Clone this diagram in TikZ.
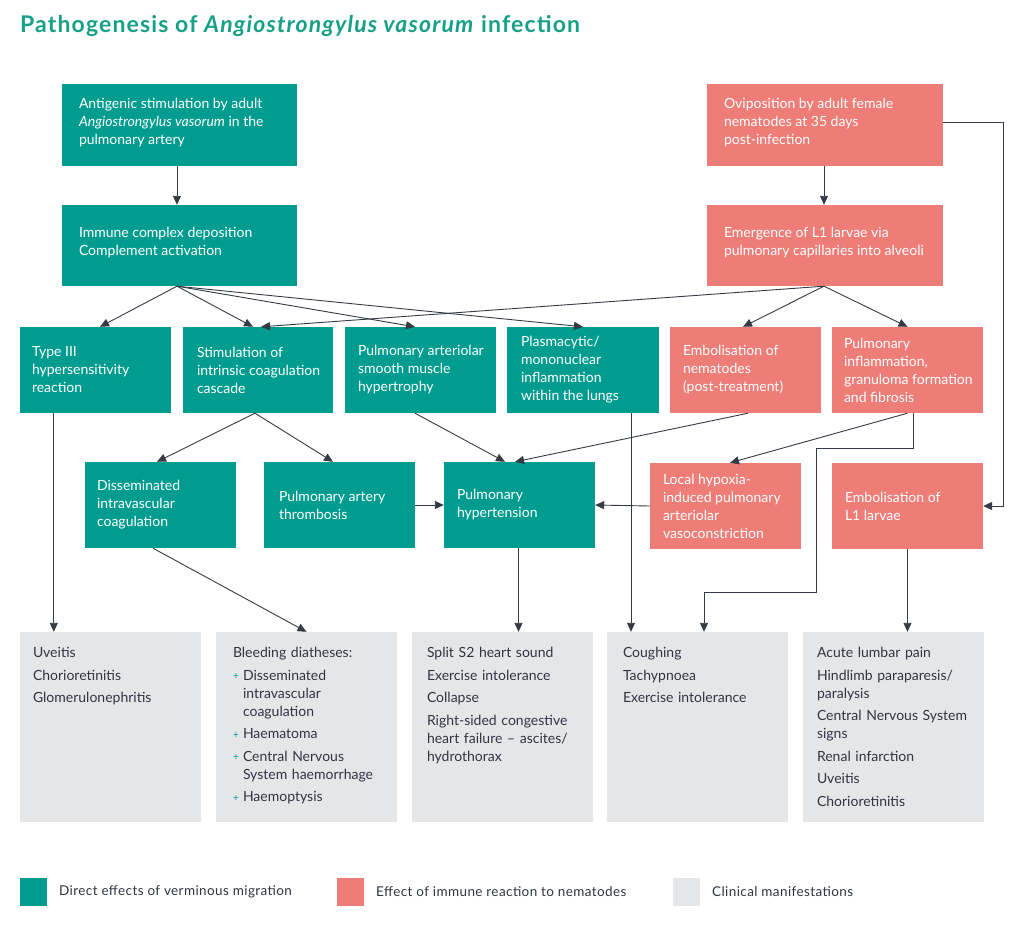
\documentclass[tikz,border=0pt]{standalone}
\usepackage{fontspec}
\setmainfont{Lato}
\usetikzlibrary{arrows.meta,calc}
\definecolor{tealc}{HTML}{009C8F}
\definecolor{redc}{HTML}{EE7D77}
\definecolor{greyc}{HTML}{E5E6E8}
\definecolor{txtc}{HTML}{2F3542}
\definecolor{linec}{HTML}{353B46}
\definecolor{titlec}{HTML}{17A088}
\newcommand\bul{\makebox[10pt][l]{\color{tealc}\fontsize{10}{10}\selectfont\raisebox{0.5pt}{+}}}
\newcommand\itm[1]{\hangindent=10pt\hangafter=1 \bul #1\par}
\begin{document}
\begin{tikzpicture}[x=1pt,y=-1pt,
  bfill/.style={rectangle, inner sep=0pt},
  tbox/.style={bfill, fill=tealc},
  rbox/.style={bfill, fill=redc},
  mid/.style={minimum width=151pt, minimum height=86pt},
  btext/.style={anchor=west, inner sep=0pt, align=left, text=white,
    font=\fontsize{14}{18}\selectfont},
  gbox/.style={rectangle, fill=greyc, inner sep=0pt, minimum width=181pt, minimum height=190pt},
  gtext/.style={anchor=north west, inner xsep=14pt, inner ysep=15.5pt, align=left, text=txtc,
    text width=158pt, font=\fontsize{14}{18}\selectfont},
  arr/.style={draw=linec, line width=0.9pt, -{Triangle[length=9pt,width=8pt]}},
  lgsq/.style={rectangle, inner sep=0pt, minimum width=27pt, minimum height=28pt},
  lgtext/.style={anchor=west, inner sep=0pt, text=txtc,
    font=\fontsize{13.5}{15}\selectfont\addfontfeature{LetterSpace=3}},
]
\useasboundingbox[fill=white] (0,0) rectangle (1024,931);

% title
\node[anchor=west, inner sep=0pt, text=titlec,
  font=\fontsize{23}{27}\selectfont\bfseries\addfontfeature{LetterSpace=5}] (title) at (20,26)
  {Pathogenesis of \textit{Angiostrongylus vasorum} infection};

% top boxes
\node[tbox, minimum width=235pt, minimum height=82pt] (ant) at (179.5,125) {};
\node[btext] (antt) at ([xshift=17pt,yshift=2pt]ant.west)
  {Antigenic stimulation by adult\\\textit{Angiostrongylus vasorum} in the\\pulmonary artery};
\node[tbox, minimum width=235pt, minimum height=81pt] (imm) at (179.5,245.5) {};
\node[btext] (immt) at ([xshift=17pt,yshift=3pt]imm.west)
  {Immune complex deposition\\Complement activation};
\node[rbox, minimum width=236pt, minimum height=82pt] (ovi) at (825,125) {};
\node[btext] (ovit) at ([xshift=17pt,yshift=2pt]ovi.west)
  {Oviposition by adult female\\nematodes at 35 days\\post-infection};
\node[rbox, minimum width=236pt, minimum height=81pt] (eme) at (825,245.5) {};
\node[btext] (emet) at ([xshift=17pt,yshift=3pt]eme.west)
  {Emergence of L1 larvae via\\pulmonary capillaries into alveoli};

% third row
\node[tbox, mid] (t3) at (95.5,370) {};
\node[btext] (t3t) at ([xshift=12pt]t3.west) {Type III\\hypersensitivity\\reaction};
\node[tbox, mid, minimum width=150pt] (stim) at (258,370) {};
\node[btext] (stimt) at ([xshift=14pt]stim.west) {Stimulation of\\intrinsic coagulation\\cascade};
\node[tbox, mid] (par) at (420.5,370) {};
\node[btext] (part) at ([xshift=13pt]par.west) {Pulmonary arteriolar\\smooth muscle\\hypertrophy};
\node[tbox, mid, minimum width=152pt] (pla) at (583,370) {};
\node[btext] (plat) at ([xshift=14pt]pla.west) {Plasmacytic/\\mononuclear\\inflammation\\within the lungs};
\node[rbox, mid] (emn) at (745.5,370) {};
\node[btext] (emnt) at ([xshift=13pt]emn.west) {Embolisation of\\nematodes\\(post-treatment)};
\node[rbox, mid] (pin) at (907.5,370) {};
\node[btext] (pint) at ([xshift=12pt]pin.west) {Pulmonary\\inflammation,\\granuloma formation\\and fibrosis};

% fourth row
\node[tbox, mid] (dic) at (160.5,505) {};
\node[btext] (dict) at ([xshift=12pt]dic.west) {Disseminated\\intravascular\\coagulation};
\node[tbox, mid] (pat) at (339.5,505) {};
\node[btext] (patt) at ([xshift=15pt]pat.west) {Pulmonary artery\\thrombosis};
\node[tbox, mid] (ph) at (519.5,505) {};
\node[btext] (pht) at ([xshift=13pt]ph.west) {Pulmonary\\hypertension};
\node[rbox, mid] (lh) at (725.5,506) {};
\node[btext] (lht) at ([xshift=13pt]lh.west) {Local hypoxia-\\induced pulmonary\\arteriolar\\vasoconstriction};
\node[rbox, mid] (el1) at (907.5,506) {};
\node[btext] (el1t) at ([xshift=13pt]el1.west) {Embolisation of\\L1 larvae};

% grey boxes
\node[gbox] (g1) at (110.5,727) {};
\node[gbox] (g2) at (306.5,727) {};
\node[gbox] (g3) at (502.5,727) {};
\node[gbox] (g4) at (697.5,727) {};
\node[gbox] (g5) at (893.5,727) {};

\node[gtext, xshift=-1pt] (g1t) at (g1.north west) {\setlength\parskip{4.5pt}%
  Uveitis\par Chorioretinitis\par Glomerulonephritis\par};
\node[gtext, xshift=3pt] (g2t) at (g2.north west) {\setlength\parskip{4.5pt}%
  Bleeding diatheses:\par
  \itm{Disseminated\newline intravascular\newline coagulation}%
  \itm{Haematoma}%
  \itm{Central Nervous\newline System haemorrhage}%
  \itm{Haemoptysis}};
\node[gtext, xshift=1pt] (g3t) at (g3.north west) {\setlength\parskip{4.5pt}%
  Split S2 heart sound\par Exercise intolerance\par Collapse\par
  Right-sided congestive\newline heart failure -- ascites/\newline hydrothorax\par};
\node[gtext, xshift=2pt] (g4t) at (g4.north west) {\setlength\parskip{4.5pt}%
  Coughing\par Tachypnoea\par Exercise intolerance\par};
\node[gtext] (g5t) at (g5.north west) {\setlength\parskip{4.5pt}%
  Acute lumbar pain\par Hindlimb paraparesis/\newline paralysis\par
  Central Nervous System\newline signs\par Renal infarction\par Uveitis\par Chorioretinitis\par};

% connectors
\draw[arr] ([xshift=-2.5pt]ant.south) -- ([xshift=-2.5pt]imm.north);
\draw[arr] ([xshift=-1pt]ovi.south) -- ([xshift=-1pt]eme.north);
\draw[arr] ([xshift=-2.5pt]imm.south) -- ([xshift=4.5pt]t3.north);
\draw[arr] ([xshift=-2.5pt]imm.south) -- ([xshift=-5pt]stim.north);
\draw[arr] ([xshift=-2.5pt]imm.south) -- ([xshift=-5.5pt]par.north);
\draw[arr] ([xshift=-2.5pt]imm.south) -- (pla.north);
\draw[arr] ([xshift=-1pt]eme.south) -- ([xshift=3pt]stim.north);
\draw[arr] ([xshift=-1pt]eme.south) -- ([xshift=-2.5pt]emn.north);
\draw[arr] ([xshift=-1pt]eme.south) -- (pin.north);
\draw[arr] ([yshift=3pt]ovi.east) -- ++(60,0) |- (el1.east);

\draw[arr] ([xshift=34pt]t3.south west) -- ([xshift=34pt]g1.north west);
\draw[arr] ([xshift=-3pt]stim.south) -- ([xshift=-3.5pt]dic.north);
\draw[arr] ([xshift=-3pt]stim.south) -- ([xshift=-6.5pt]pat.north);
\draw[arr] ([xshift=-5.5pt]par.south) -- ([xshift=-14.5pt]ph.north);
\draw[arr] ([xshift=2.5pt]emn.south) -- ([xshift=-4.5pt]ph.north);
\draw[arr] ([xshift=48pt]pla.south) -- ([xshift=48pt]pla.south |- g4.north);
\draw[arr] (pin.south) -- ([xshift=4.5pt]lh.north);
\draw[arr] ([xshift=5.5pt]pin.south) -- ++(0,35) -- ++(-97,0) -- ++(0,144) -| ([xshift=6.5pt]g4.north);
\draw[arr] (lh.west) -- (ph.east);
\draw[arr] (pat.east) -- (ph.west);
\draw[arr] ([xshift=-7.5pt]dic.south) -- (g2.north);
\draw[arr] ([xshift=-1pt]ph.south) -- ([xshift=-1pt]ph.south |- g3.north);
\draw[arr] (el1.south) -- (el1.south |- g5.north);

% legend
\node[lgsq, fill=tealc] (lg1) at (33.5,892) {};
\node[lgtext] (lg1t) at (59,892) {Direct effects of verminous migration};
\node[lgsq, fill=redc] (lg2) at (350.5,892) {};
\node[lgtext] (lg2t) at (376,892) {Effect of immune reaction to nematodes};
\node[lgsq, fill=greyc] (lg3) at (686.5,892) {};
\node[lgtext] (lg3t) at (712,892) {Clinical manifestations};
\end{tikzpicture}
\end{document}
